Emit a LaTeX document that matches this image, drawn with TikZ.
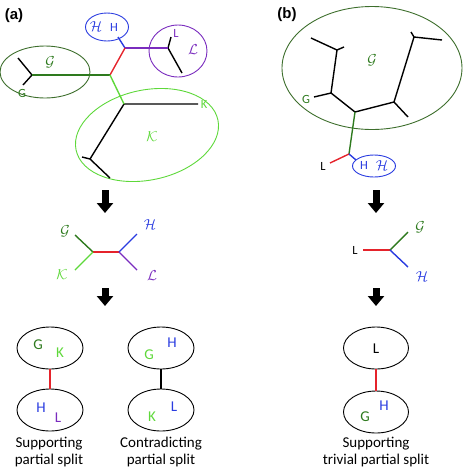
\documentclass[tikz,border=0pt]{standalone}
\usepackage{fontspec}
\setmainfont{Carlito}
\newfontfamily\panelfont{Liberation Sans}
\usetikzlibrary{shapes.geometric,arrows.meta}
\definecolor{cdkgreen}{HTML}{2E7A1E}
\definecolor{cgrpgreen}{HTML}{3D6E2C}
\definecolor{cltgreen}{HTML}{5ED83A}
\definecolor{cblue}{HTML}{2A3CE0}
\definecolor{cpurple}{HTML}{7A2CBE}
\definecolor{cred}{HTML}{E5232B}

\begin{document}
\begin{tikzpicture}[x=1pt,y=-1pt,
  edge/.style={line width=1.4pt},
  grp/.style={draw,ellipse,line width=0.9pt,inner sep=0pt},
  split/.style={draw,ellipse,line width=0.9pt,minimum width=66pt,minimum height=42pt},
  leaf/.style={font=\fontsize{12.5}{12.5}\selectfont,inner sep=1pt},
  cal/.style={font=\fontsize{15}{15}\selectfont,inner sep=1pt},
  tag/.style={font=\fontsize{15}{15}\selectfont,inner sep=0pt},
  caption/.style={font=\fontsize{15}{17}\selectfont,align=center,inner sep=0pt},
  panel/.style={font=\panelfont\bfseries\fontsize{15}{15}\selectfont,inner sep=0pt},
  flow/.style={line width=7pt,-{Triangle[length=10pt,width=16pt]}}]
  \useasboundingbox (0,0) rectangle (474,467);

  % (a) full tree
  \node[panel] (pa) at (14,16) {(a)};
  \node[grp,draw=cgrpgreen,minimum width=90pt,minimum height=52pt] (gA) at (45,72) {};
  \node[grp,draw=cblue,minimum width=43pt,minimum height=28pt] (hA) at (107,27) {};
  \node[grp,draw=cpurple,minimum width=58pt,minimum height=52pt] (lA) at (178,51) {};
  \node[grp,draw=cltgreen,minimum width=145pt,minimum height=90pt,rotate=12] (kA) at (147,135) {};
  \coordinate (aH) at (125,48);
  \coordinate (aB) at (110,75);
  \coordinate (aG) at (32,75);
  \coordinate (aK) at (124,104);
  \coordinate (aL) at (168,48);
  \coordinate (hleaf) at (118,37);
  \coordinate (l1) at (171,37);
  \coordinate (l2) at (182,73);
  \coordinate (g1) at (18,58);
  \coordinate (g2) at (23,85);
  \coordinate (k1) at (198,104);
  \coordinate (k2) at (90,159);
  \coordinate (k3) at (82,157);
  \coordinate (k4) at (110,178);
  \draw[edge] (aK) -- (k1) (aK) -- (k2) (k2) -- (k3) (k2) -- (k4);
  \draw[edge] (aL) -- (l1) (aL) -- (l2) (aG) -- (g1) (aG) -- (g2);
  \draw[edge,cblue] (hleaf) -- (aH);
  \draw[edge,cpurple] (aH) -- (aL);
  \draw[edge,cred] (aH) -- (aB);
  \draw[edge,cdkgreen] (aB) -- (aG);
  \draw[edge,cltgreen] (aB) -- (aK);
  \node[leaf,cblue] (hlab) at (114,27) {H};
  \node[leaf,cpurple] (llab) at (176,33) {L};
  \node[leaf,cdkgreen] (glab) at (22,93) {G};
  \node[leaf,cltgreen] (klab) at (204,104) {K};
  \node[cal,cdkgreen] (gcal) at (50,62) {$\mathcal{G}$};
  \node[cal,cblue] (hcal) at (96,27) {$\mathcal{H}$};
  \node[cal,cpurple] (lcal) at (193,50) {$\mathcal{L}$};
  \node[cal,cltgreen] (kcal) at (152,137) {$\mathcal{K}$};

  % (a) quartet
  \coordinate (a1s) at (105,190);
  \coordinate (a1e) at (105,213);
  \draw[flow] (a1s) -- (a1e);
  \coordinate (m1) at (93,252);
  \coordinate (m2) at (119,252);
  \coordinate (mg) at (75,235);
  \coordinate (mk) at (75,270);
  \coordinate (mh) at (137,234);
  \coordinate (ml) at (137,270);
  \draw[edge,cred] (m1) -- (m2);
  \draw[edge,cdkgreen] (m1) -- (mg);
  \draw[edge,cltgreen] (m1) -- (mk);
  \draw[edge,cblue] (m2) -- (mh);
  \draw[edge,cpurple] (m2) -- (ml);
  \node[cal,cdkgreen] (mgl) at (65,231) {$\mathcal{G}$};
  \node[cal,cltgreen] (mkl) at (62,275) {$\mathcal{K}$};
  \node[cal,cblue] (mhl) at (150,225) {$\mathcal{H}$};
  \node[cal,cpurple] (mll) at (152,276) {$\mathcal{L}$};

  % (a) partial splits
  \coordinate (a2s) at (105,288);
  \coordinate (a2e) at (105,306);
  \draw[flow] (a2s) -- (a2e);
  \node[split] (s1) at (50,348) {};
  \node[split] (s2) at (50,410) {};
  \node[split] (s3) at (161,348) {};
  \node[split] (s4) at (161,410) {};
  \draw[edge,cred] (s1) -- (s2);
  \draw[edge] (s3) -- (s4);
  \node[tag,cdkgreen] at (38,345) {G};
  \node[tag,cltgreen] at (60,353) {K};
  \node[tag,cblue] at (41,408) {H};
  \node[tag,cpurple] at (58,418) {L};
  \node[tag,cltgreen] at (149,355) {G};
  \node[tag,cblue] at (172,343) {H};
  \node[tag,cltgreen] at (152,417) {K};
  \node[tag,cblue] at (174,407) {L};
  \node[caption] (c1) at (49,452) {Supporting\\partial split};
  \node[caption] (c2) at (161,452) {Contradicting\\partial split};

  % (b) full tree
  \node[panel] (pb) at (287,15) {(b)};
  \node[grp,draw=cgrpgreen,minimum width=180pt,minimum height=123pt] (bG) at (372,68) {};
  \node[grp,draw=cblue,minimum width=43pt,minimum height=22pt] (bH) at (374,166) {};
  \coordinate (bR) at (355,112);
  \coordinate (bN1) at (331,93);
  \coordinate (bg) at (314,97);
  \coordinate (bN2) at (337,50);
  \coordinate (b1) at (311,38);
  \coordinate (b2) at (344,47);
  \coordinate (bN3) at (394,102);
  \coordinate (b3) at (408,117);
  \coordinate (bN4) at (414,37);
  \coordinate (b4) at (442,40);
  \coordinate (b5) at (411,32);
  \coordinate (bN5) at (349,154);
  \coordinate (bl) at (330,163);
  \coordinate (bh) at (356,160);
  \draw[edge] (bR) -- (bN1) (bN1) -- (bg) (bN1) -- (bN2) (bN2) -- (b1) (bN2) -- (b2);
  \draw[edge] (bR) -- (bN3) (bN3) -- (b3) (bN3) -- (bN4) (bN4) -- (b4) (bN4) -- (b5);
  \draw[edge,cdkgreen] (bR) -- (bN5);
  \draw[edge,cred] (bN5) -- (bl);
  \draw[edge,cblue] (bN5) -- (bh);
  \node[leaf,cdkgreen] (bglab) at (306,99) {G};
  \node[leaf] (bllab) at (323,166) {L};
  \node[leaf,cblue] (bhlab) at (364,165) {H};
  \node[cal,cblue] (bhcal) at (382,166) {$\mathcal{H}$};
  \node[cal,cdkgreen] (bgcal) at (372,60) {$\mathcal{G}$};

  % (b) triplet
  \coordinate (b1s) at (376,190);
  \coordinate (b1e) at (376,213);
  \draw[flow] (b1s) -- (b1e);
  \coordinate (t0) at (390,250);
  \coordinate (tl) at (363,250);
  \coordinate (tg) at (408,232);
  \coordinate (th) at (408,267);
  \draw[edge,cred] (t0) -- (tl);
  \draw[edge,cdkgreen] (t0) -- (tg);
  \draw[edge,cblue] (t0) -- (th);
  \node[leaf] (tll) at (355,250) {L};
  \node[cal,cdkgreen] (tgl) at (420,227) {$\mathcal{G}$};
  \node[cal,cblue] (thl) at (422,277) {$\mathcal{H}$};

  % (b) partial split
  \coordinate (b2s) at (376,288);
  \coordinate (b2e) at (376,306);
  \draw[flow] (b2s) -- (b2e);
  \node[split,minimum width=65pt] (t1) at (376,348) {};
  \node[split,minimum width=65pt] (t2) at (376,412) {};
  \draw[edge,cred] (t1) -- (t2);
  \node[tag] at (376,349) {L};
  \node[tag,cdkgreen] at (365,417) {G};
  \node[tag,cblue] at (384,406) {H};
  \node[caption] (c3) at (376,452) {Supporting\\trivial partial split};
\end{tikzpicture}
\end{document}
